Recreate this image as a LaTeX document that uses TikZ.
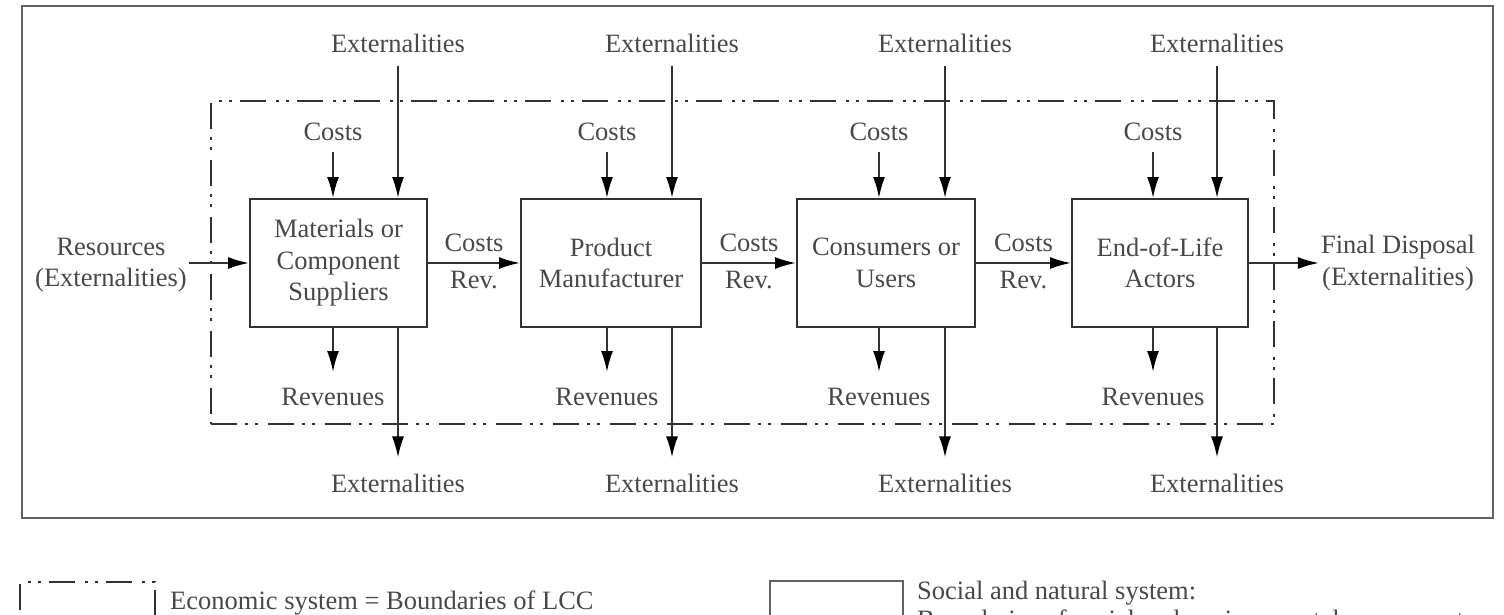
\documentclass[tikz,border=0pt]{standalone}
\usepackage{fontspec}
\setmainfont{Liberation Serif}
\usetikzlibrary{arrows.meta}
\definecolor{txt}{RGB}{72,72,72}
\definecolor{ln}{RGB}{50,50,50}
\begin{document}
\begin{tikzpicture}[x=1pt,y=-1pt,
  every node/.style={font=\fontsize{26.5}{31.5}\selectfont, text=txt},
  lbl/.style={inner sep=2pt},
  multi/.style={inner sep=2pt, align=center},
  box/.style={draw=ln, line width=2pt, minimum width=177pt, minimum height=128pt,
              align=center, inner sep=0pt},
  arr/.style={draw=ln, line width=2pt, -{Latex[length=21pt,width=12pt,color=black]}},
  frame/.style={draw=black!62, line width=2pt},
  dashdotdot/.style={draw=ln, line width=1.8pt,
     dash pattern=on 26pt off 8pt on 3pt off 7pt on 3pt off 10pt}
]
\useasboundingbox (0,0) rectangle (1504,614);

% outer frame (social and natural system)
\node[frame, minimum width=1471pt, minimum height=512pt, inner sep=0pt, anchor=north west] (outer) at (21,5) {};
% economic system boundary
\node[dashdotdot, minimum width=1063pt, minimum height=323pt, inner sep=0pt, anchor=north west] (lcc) at (210,100) {};

% actors
\node[box, minimum width=177pt] (b1) at (338.5,263) {Materials or\\Component\\Suppliers};
\node[box, minimum width=180pt] (b2) at (611,263) {Product\\Manufacturer};
\node[box, minimum width=178pt] (b3) at (886,263) {Consumers or\\Users};
\node[box, minimum width=176pt] (b4) at (1160,263) {End-of-Life\\Actors};

% costs / revenues / externalities per actor
\foreach \i/\cx/\ex in {1/333/398, 2/607/672, 3/879/945, 4/1153/1217}{
  \node[lbl] (te\i) at (\ex,43) {Externalities};
  \node[lbl] (c\i) at (\cx,132) {Costs};
  \node[lbl] (r\i) at (\cx,397) {Revenues};
  \node[lbl] (be\i) at (\ex,483) {Externalities};
  \draw[arr, shorten <=11pt] (te\i.south) -- (te\i.south |- b\i.north);
  \draw[arr, shorten <=9pt] (c\i.south) -- (c\i.south |- b\i.north);
  \draw[arr, shorten >=14pt] (r\i.north |- b\i.south) -- (r\i.north);
  \draw[arr, shorten >=14pt] (be\i.north |- b\i.south) -- (be\i.north);
}

% flows between actors
\foreach \a/\b/\m in {1/2/474, 2/3/749, 3/4/1023.5}{
  \node[lbl] (k\a) at (\m,243) {Costs};
  \node[lbl] (v\a) at (\m,280) {Rev.};
  \draw[arr] (b\a.east) -- (b\b.west);
}

% inputs and outputs
\node[multi] (res) at (111,265) {Resources\\(Externalities)};
\node[multi] (fd) at (1398,263) {Final Disposal\\(Externalities)};
\draw[arr] (res.east |- b1.west) -- (b1.west);
\draw[arr] (b4.east) -- (fd.west |- b4.east);

% legend
\node[dashdotdot, minimum width=135pt, minimum height=70pt, inner sep=0pt, anchor=north west] (lg1) at (19,581) {};
\node[lbl, anchor=west] (lt1) at (168,603) {Economic system = Boundaries of LCC};
\node[frame, minimum width=133pt, minimum height=70pt, inner sep=0pt, anchor=north west] (lg2) at (769,580) {};
\node[inner sep=0pt, anchor=base west] (lt2) at (917,599) {Social and natural system:};
\node[inner sep=0pt, anchor=base west] (lt3) at (917,628) {Boundaries of social and environmental assessment};
\end{tikzpicture}
\end{document}
